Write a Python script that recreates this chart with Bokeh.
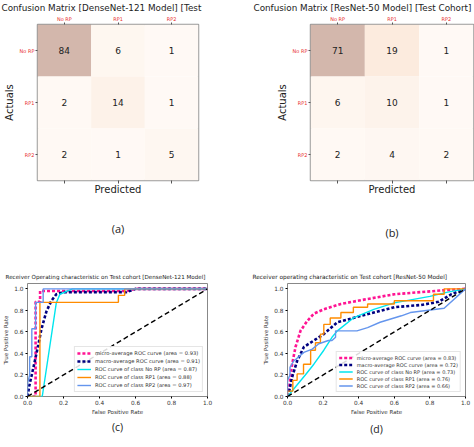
import numpy as np
from bokeh.plotting import figure
from bokeh.core.properties import value
from bokeh.models import (ColumnDataSource, Range1d, LinearAxis, LinearColorMapper, FixedTicker,
                          NumeralTickFormatter, Legend, LegendItem)
from bokeh.transform import transform
from bokeh.layouts import column, row
from bokeh.embed import file_html
from bokeh.resources import INLINE

# ---------------- data ----------------
classes = ["No RP", "RP1", "RP2"]
cm_densenet = [[84, 6, 1], [2, 14, 1], [2, 1, 5]]
cm_resnet = [[71, 19, 1], [6, 10, 1], [2, 4, 2]]

# DenseNet-121 ROC (panel c)
c_micro_fpr = [0.0, 0.045, 0.045, 0.07, 0.07, 0.55, 0.6, 1.0]
c_micro_tpr = [0.0, 0.0, 0.88, 0.88, 0.98, 0.98, 1.0, 1.0]
c_macro_fpr = [0.0, 0.01, 0.033, 0.06, 0.078, 0.105, 0.133, 0.16, 0.2, 0.55, 0.6, 1.0]
c_macro_tpr = [0.0, 0.1, 0.27, 0.48, 0.63, 0.79, 0.89, 0.95, 0.97, 0.97, 1.0, 1.0]
c_norp_fpr = [0.0, 0.082, 0.16, 0.18, 0.25, 1.0]
c_norp_tpr = [0.0, 0.0, 0.87, 0.95, 1.0, 1.0]
c_rp1_fpr = [0.0, 0.069, 0.069, 0.505, 0.505, 0.54, 0.54, 1.0]
c_rp1_tpr = [0.0, 0.0, 0.875, 0.875, 0.94, 0.94, 1.0, 1.0]
c_rp2_fpr = [0.0, 0.0, 0.012, 0.012, 0.024, 0.024, 0.045, 0.045, 0.087, 0.087, 1.0]
c_rp2_tpr = [0.0, 0.12, 0.2, 0.37, 0.37, 0.63, 0.63, 0.875, 0.875, 1.0, 1.0]
c_auc = [0.93, 0.91, 0.87, 0.88, 0.97]

# ResNet-50 ROC (panel d)
d_micro_fpr = [0.0, 0.007, 0.026, 0.045, 0.073, 0.11, 0.148, 0.204, 0.3, 0.43, 0.6, 0.75, 0.9, 1.0]
d_micro_tpr = [0.0, 0.056, 0.3, 0.46, 0.61, 0.7, 0.77, 0.81, 0.86, 0.9, 0.95, 0.97, 0.99, 1.0]
d_macro_fpr = [0.0, 0.007, 0.026, 0.054, 0.092, 0.148, 0.204, 0.28, 0.37, 0.485, 0.6, 0.75, 0.85, 0.92, 1.0]
d_macro_tpr = [0.0, 0.03, 0.18, 0.33, 0.46, 0.52, 0.58, 0.69, 0.73, 0.78, 0.83, 0.85, 0.88, 0.95, 1.0]
d_norp_fpr = [0.0, 0.05, 0.1, 0.148, 0.204, 0.25, 0.28, 0.37, 0.485, 0.6, 0.7, 0.8, 0.9, 1.0]
d_norp_tpr = [0.0, 0.1, 0.2, 0.3, 0.43, 0.55, 0.61, 0.73, 0.81, 0.87, 0.9, 0.93, 0.97, 1.0]
d_rp1_fpr = [0.0, 0.0, 0.03, 0.03, 0.054, 0.054, 0.09, 0.09, 0.13, 0.13, 0.157, 0.157, 0.185, 0.185,
             0.204, 0.204, 0.24, 0.24, 0.3, 0.3, 0.37, 0.37, 0.45, 0.45, 0.6, 0.6, 0.82, 0.82, 0.88, 0.88, 1.0]
d_rp1_tpr = [0.0, 0.05, 0.05, 0.15, 0.15, 0.21, 0.21, 0.3, 0.3, 0.43, 0.43, 0.5, 0.5, 0.58,
             0.58, 0.67, 0.67, 0.73, 0.73, 0.78, 0.78, 0.83, 0.83, 0.86, 0.86, 0.89, 0.89, 0.95, 0.95, 1.0, 1.0]
d_rp2_fpr = [0.0, 0.0, 0.014, 0.014, 0.035, 0.064, 0.092, 0.139, 0.176, 0.23, 0.25, 0.27, 0.27,
             0.39, 0.45, 0.52, 0.58, 0.64, 0.69, 0.88, 1.0]
d_rp2_tpr = [0.0, 0.15, 0.2, 0.27, 0.33, 0.37, 0.41, 0.44, 0.49, 0.52, 0.52, 0.55, 0.61,
             0.61, 0.64, 0.69, 0.72, 0.75, 0.78, 0.82, 1.0]
d_auc = [0.83, 0.72, 0.73, 0.76, 0.66]

roc_ticks = [0.0, 0.2, 0.4, 0.6, 0.8, 1.0]

# ---------------- styles ----------------
FONT = "DejaVu Sans"
CAP_FONT = "Open Sans"
RED = "#e8302f"
TOP_H = 242
BOT_H = 205
anchors_t = [0.0, 0.15, 0.3, 1.0]
anchors_c = [(255, 250, 246), (253, 243, 234), (252, 233, 219), (211, 183, 172)]
palette = []
for t in np.linspace(0, 1, 256):
    rgb = [int(round(np.interp(t, anchors_t, [c[i] for c in anchors_c]))) for i in range(3)]
    palette.append("#%02x%02x%02x" % tuple(rgb))

n = len(classes)
col_pos = [j + 0.5 for j in range(n)]            # predicted class centres, left to right
row_pos = [n - i - 0.5 for i in range(n)]        # actual class centres, top to bottom


def caption_axis(text, standoff, size="11px"):
    ax = LinearAxis(ticker=FixedTicker(ticks=[]), axis_label=text)
    ax.axis_line_color = None
    ax.major_tick_line_color = None
    ax.minor_tick_line_color = None
    ax.major_label_standoff = 0
    ax.axis_label_standoff = standoff
    ax.axis_label_text_font = CAP_FONT
    ax.axis_label_text_font_size = size
    ax.axis_label_text_font_style = "normal"
    ax.axis_label_text_color = "#222222"
    return ax


def cm_figure(cm, min_left, min_right, title, title_offset, cap, cap_standoff):
    xs, ys, vals, txt = [], [], [], []
    for i in range(n):
        for j in range(n):
            xs.append(col_pos[j])
            ys.append(row_pos[i])
            vals.append(cm[i][j])
            txt.append(str(cm[i][j]))
    src = ColumnDataSource(dict(pred=xs, actual=ys, val=vals, txt=txt))
    mapper = LinearColorMapper(palette=palette, low=0, high=max(vals))
    p = figure(width=237, height=TOP_H, x_range=Range1d(0, n), y_range=Range1d(0, n),
               output_backend="svg", toolbar_location=None, min_border_left=min_left,
               min_border_right=min_right, min_border_top=18, min_border_bottom=TOP_H - 180,
               x_axis_location=None, y_axis_location=None)
    p.rect(x="pred", y="actual", width=1, height=1, source=src,
           fill_color=transform("val", mapper), line_color=None)
    p.text(x="pred", y="actual", text="txt", source=src, text_font_size="9px",
           text_align="center", text_baseline="middle", text_color="#222222",
           text_font=value(FONT))
    p.grid.visible = False
    p.outline_line_color = "#9a9a9a"
    p.outline_line_width = 1.5
    p.background_fill_color = "white"
    p.title.text = title
    p.title.align = "left"
    p.title.offset = title_offset
    p.title.standoff = 0
    p.title.text_font = FONT
    p.title.text_font_size = "8.8px"
    p.title.text_font_style = "normal"
    p.title.text_color = "#222222"
    top = LinearAxis(ticker=FixedTicker(ticks=col_pos),
                     major_label_overrides={col_pos[j]: classes[j] for j in range(n)})
    left = LinearAxis(ticker=FixedTicker(ticks=row_pos),
                      major_label_overrides={row_pos[i]: classes[i] for i in range(n)})
    for ax in (top, left):
        ax.major_label_text_color = RED
        ax.major_label_text_font_size = "5px"
        ax.major_label_text_font = FONT
        ax.major_tick_out = 2
        ax.major_tick_in = 0
        ax.minor_tick_line_color = None
        ax.major_label_standoff = 1
        ax.axis_line_color = None
        ax.major_tick_line_color = "#555555"
    left.axis_label = "Actuals"
    left.axis_label_text_font_size = "10px"
    left.axis_label_text_font_style = "normal"
    left.axis_label_text_font = FONT
    left.axis_label_text_color = "#222222"
    left.axis_label_standoff = 2
    left.major_label_orientation = "horizontal"
    p.add_layout(top, "above")
    p.add_layout(left, "left")
    bx = LinearAxis(ticker=FixedTicker(ticks=[], minor_ticks=col_pos), axis_label="Predicted")
    bx.axis_label_text_font_size = "10px"
    bx.axis_label_text_font_style = "normal"
    bx.axis_label_text_font = FONT
    bx.axis_label_text_color = "#222222"
    bx.axis_label_standoff = 0
    bx.major_label_standoff = 0
    bx.minor_tick_out = 3
    bx.minor_tick_in = 0
    bx.minor_tick_line_color = "#555555"
    bx.major_tick_line_color = None
    bx.axis_line_color = None
    p.add_layout(bx, "below")
    p.add_layout(caption_axis(cap, cap_standoff), "below")
    return p


def roc_figure(curves, aucs, min_left, min_right, min_top, min_bottom, title, title_offset,
               title_size, cap, cap_standoff, leg_font, leg_row):
    p = figure(width=237, height=BOT_H, x_range=Range1d(0, 1), y_range=Range1d(0, 1.05),
               output_backend="svg", toolbar_location=None, min_border_left=min_left,
               min_border_right=min_right, min_border_top=min_top, min_border_bottom=min_bottom)
    p.grid.visible = False
    p.outline_line_color = "#888888"
    p.outline_line_width = 1
    p.title.text = title
    p.title.align = "left"
    p.title.offset = title_offset
    p.title.standoff = 8
    p.title.text_font = FONT
    p.title.text_font_size = title_size
    p.title.text_font_style = "normal"
    p.title.text_color = "#222222"
    colors = ["#ff1493", "#000080", "#00e5ee", "#ff8c00", "#6495ed"]
    names = ["micro-average ROC curve", "macro-average ROC curve", "ROC curve of class No RP",
             "ROC curve of class RP1", "ROC curve of class RP2"]
    items = []
    for k, (fx, fy) in enumerate(curves):
        if k < 2:
            r = p.line(fx, fy, line_color=colors[k], line_width=2.6, line_dash="3 2")
        else:
            r = p.line(fx, fy, line_color=colors[k], line_width=1.4)
        items.append(LegendItem(label="%s (area = %.2f)" % (names[k], aucs[k]), renderers=[r]))
    p.line([0, 1], [0, 1], line_color="black", line_width=1.4, line_dash="5 3")
    leg = Legend(items=items, location="bottom_right", label_text_font_size=leg_font,
                 label_text_font=FONT, label_text_color="#333333", label_height=leg_row,
                 glyph_height=leg_row, glyph_width=14, spacing=0, padding=2, margin=4,
                 label_standoff=4, border_line_color="#cccccc", background_fill_alpha=0.85)
    p.add_layout(leg)
    for ax in (p.xaxis[0], p.yaxis[0]):
        ax.ticker = FixedTicker(ticks=roc_ticks)
        ax.formatter = NumeralTickFormatter(format="0.0")
        ax.major_label_text_font_size = "5.8px"
        ax.major_label_text_font = FONT
        ax.major_label_text_color = "#333333"
        ax.major_tick_out = 2
        ax.major_tick_in = 0
        ax.minor_tick_line_color = None
        ax.axis_line_color = None
        ax.major_label_standoff = 2
        ax.axis_label_text_font_size = "5.5px"
        ax.axis_label_text_font_style = "normal"
        ax.axis_label_text_font = FONT
        ax.axis_label_text_color = "#333333"
        ax.axis_label_standoff = 2
    p.xaxis[0].major_label_standoff = 1
    p.xaxis[0].axis_label_standoff = 1
    p.xaxis[0].axis_label = "False Positive Rate"
    p.yaxis[0].axis_label = "True Positive Rate"
    p.yaxis[0].major_label_orientation = "horizontal"
    p.add_layout(caption_axis(cap, cap_standoff, "10.5px"), "below")
    return p


pa = cm_figure(cm_densenet, 36, 39, "Confusion Matrix [DenseNet-121 Model] [Test", -36, "(a)", 23)
pb = cm_figure(cm_resnet, 73, 1, "Confusion Matrix [ResNet-50 Model] [Test Cohort]", -57, "(b)", 27)

pc = roc_figure([(c_micro_fpr, c_micro_tpr), (c_macro_fpr, c_macro_tpr), (c_norp_fpr, c_norp_tpr),
                 (c_rp1_fpr, c_rp1_tpr), (c_rp2_fpr, c_rp2_tpr)], c_auc, 24, 30, 282 - TOP_H, 46,
                "Receiver Operating characteristic on Test cohort [DenseNet-121 Model]", -22, "5.6px",
                "(c)", 2, "5.2px", 8)
pd_ = roc_figure([(d_micro_fpr, d_micro_tpr), (d_macro_fpr, d_macro_tpr), (d_norp_fpr, d_norp_tpr),
                  (d_rp1_fpr, d_rp1_tpr), (d_rp2_fpr, d_rp2_tpr)], d_auc, 50, 9, 283 - TOP_H, 51,
                 "Receiver operating characteristic on Test cohort [ResNet-50 Model]", -35, "5.8px",
                 "(d)", 4, "5px", 7)

layout = column(row(pa, pb), row(pc, pd_))
open("out.html", "w").write(file_html(layout, INLINE))
